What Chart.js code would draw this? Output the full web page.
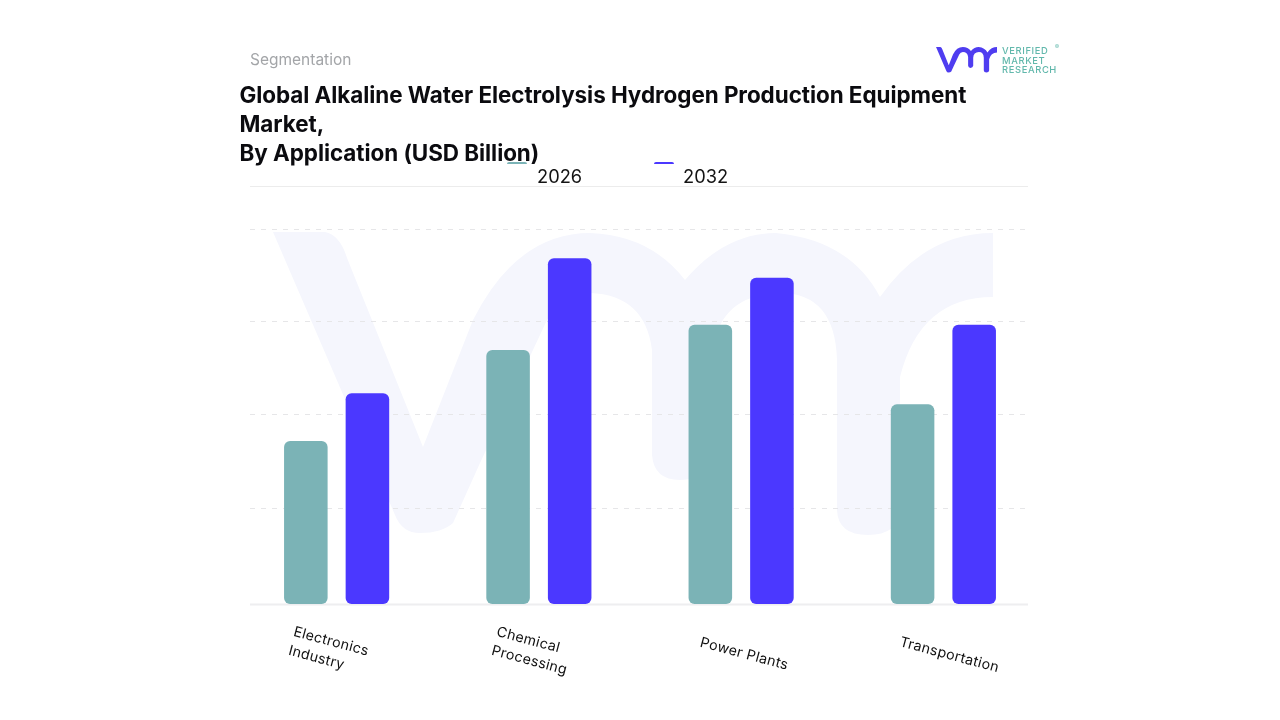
<!DOCTYPE html>
<html>
<head>
<meta charset="utf-8">
<title>Alkaline Water Electrolysis Hydrogen Production Equipment Market</title>
<script src="https://cdn.jsdelivr.net/npm/chart.js@4"></script>
<style>
    html, body { margin: 0; padding: 0; background: #fff; }
    #page { position: relative; width: 1280px; height: 720px; overflow: hidden; font-family: Inter, sans-serif; }
    #page > * { position: absolute; }
    #mark, canvas { left: 0; top: 0; }
    .segment { left: 250px; top: 50px; font-size: 15.5px; line-height: 20px; color: #a3a5a8; }
    .title { left: 239.5px; top: 80px; width: 780px; font-size: 22.45px; line-height: 29px; font-weight: 700; letter-spacing: -0.05px; color: #0b0b0f; }
    .legend-text { top: 164px; font-size: 18.3px; line-height: 24px; color: #141414; }
    .legend-key { top: 162px; width: 20px; height: 2px; border-radius: 10px 10px 0 0; }
    .brand { left: 1002px; top: 46px; font-size: 9.4px; line-height: 9.6px; font-weight: 500; letter-spacing: 0.62px; color: #62b8ac; }
    .reg { left: 1055px; top: 43px; font-size: 6px; color: #62b8ac; }
</style>
</head>
<body>
<div id="page">
    <svg id="mark" width="1280" height="720" viewBox="0 0 1280 720">
        <defs>
            <path id="vmr" d="M273 232 L325 232 Q340 235 347 258 L423 447 L473 320 Q517 233 590 233 Q650 235 685 280 Q725 233 776 233 Q850 240 880 297 Q925 233 993 233 L993 297 Q920 297 900 377 L900 510 Q898 535 868 535 Q838 535 837 510 L837 360 Q835 293 780 293 Q715 295 712 360 L712 455 Q708 480 680 480 Q654 480 652 455 L652 350 Q645 295 590 293 Q560 295 547 320 L480 463 L453 523 Q442 533 420 533 Q402 533 395 515 Z"/>
        </defs>
        <use href="#vmr" fill="#f5f6fd"/>
        <use href="#vmr" fill="#4f3df0" transform="translate(912.9 27.3) scale(0.0847)"/>
    </svg>
    <canvas id="chart" width="1280" height="720"></canvas>
    <div class="segment">Segmentation</div>
    <div class="title">Global Alkaline Water Electrolysis Hydrogen Production Equipment<br>Market,<br>By Application (USD Billion)</div>
    <div class="legend-key" id="key0" style="left:507px"></div>
    <div class="legend-text" id="name0" style="left:537px"></div>
    <div class="legend-key" id="key1" style="left:654px"></div>
    <div class="legend-text" id="name1" style="left:683px"></div>
    <div class="brand">VERIFIED<br>MARKET<br>RESEARCH</div>
    <div class="reg">®</div>
</div>
<script>
const categories = [['Electronics', 'Industry'], ['Chemical', 'Processing'], ['Power Plants'], ['Transportation']];
const seriesNames = ['2026', '2032'];
const values2026 = [1.74, 2.71, 2.98, 2.13];
const values2032 = [2.25, 3.69, 3.48, 2.98];
const gridValues = [1.02, 2.03, 3.02, 4];
const yMax = 4.46;

const colors = ['#7bb3b6', '#4b38ff'];

// label block offset from the category centre, the source labels are not evenly placed
const labelNudge = [[-8, 1], [-7, 1], [3, 4], [6, 5]];

seriesNames.forEach((name, i) => {
    document.getElementById('name' + i).textContent = name;
    document.getElementById('key' + i).style.background = colors[i];
});

const gridPlugin = {
    id: 'shortGrid',
    beforeDatasetsDraw(chart) {
        const { ctx, scales: { y } } = chart;
        const line = (value, color, width, dash) => {
            const py = Math.round(y.getPixelForValue(value)) + 0.5;
            ctx.save();
            ctx.strokeStyle = color;
            ctx.lineWidth = width;
            ctx.setLineDash(dash);
            ctx.beginPath();
            ctx.moveTo(250, py);
            ctx.lineTo(1028, py);
            ctx.stroke();
            ctx.restore();
        };
        line(yMax, '#ececec', 1, []);
        gridValues.forEach(v => line(v, '#e6e6e8', 1, [5, 6]));
        line(0, '#eeeef0', 2, []);
    },
};

const labelPlugin = {
    id: 'slantedLabels',
    afterDraw(chart) {
        const { ctx, scales: { x } } = chart;
        const lineHeight = 19.5;
        ctx.save();
        ctx.font = '14.2px Inter, sans-serif';
        ctx.letterSpacing = '0.3px';
        ctx.fillStyle = '#111';
        ctx.textBaseline = 'middle';
        categories.forEach((lines, i) => {
            const widest = Math.max(...lines.map(l => ctx.measureText(l).width));
            ctx.save();
            ctx.translate(x.getPixelForTick(i) + labelNudge[i][0], 650 + labelNudge[i][1]);
            ctx.rotate(15 * Math.PI / 180);
            lines.forEach((l, n) => {
                ctx.fillText(l, -widest / 2, (n - (lines.length - 1) / 2) * lineHeight);
            });
            ctx.restore();
        });
        ctx.restore();
    },
};

new Chart(document.getElementById('chart'), {
    type: 'bar',
    data: {
        labels: categories.map(c => c.join(' ')),
        datasets: [
            { label: seriesNames[0], data: values2026, backgroundColor: colors[0] },
            { label: seriesNames[1], data: values2032, backgroundColor: colors[1] },
        ],
    },
    options: {
        responsive: false,
        animation: false,
        devicePixelRatio: 1,
        layout: { padding: { left: 235.5, right: 235.5, top: 186, bottom: 108 } },
        datasets: {
            bar: {
                categoryPercentage: 0.609,
                barPercentage: 0.707,
                borderRadius: 6,
                borderSkipped: false,
            },
        },
        scales: {
            x: {
                grid: { display: false },
                border: { display: false },
                ticks: { display: false },
            },
            y: {
                display: false,
                min: 0,
                max: yMax,
            },
        },
        plugins: {
            legend: { display: false },
            title: { display: false },
            tooltip: { enabled: false },
        },
    },
    plugins: [gridPlugin, labelPlugin],
});
</script>
</body>
</html>
